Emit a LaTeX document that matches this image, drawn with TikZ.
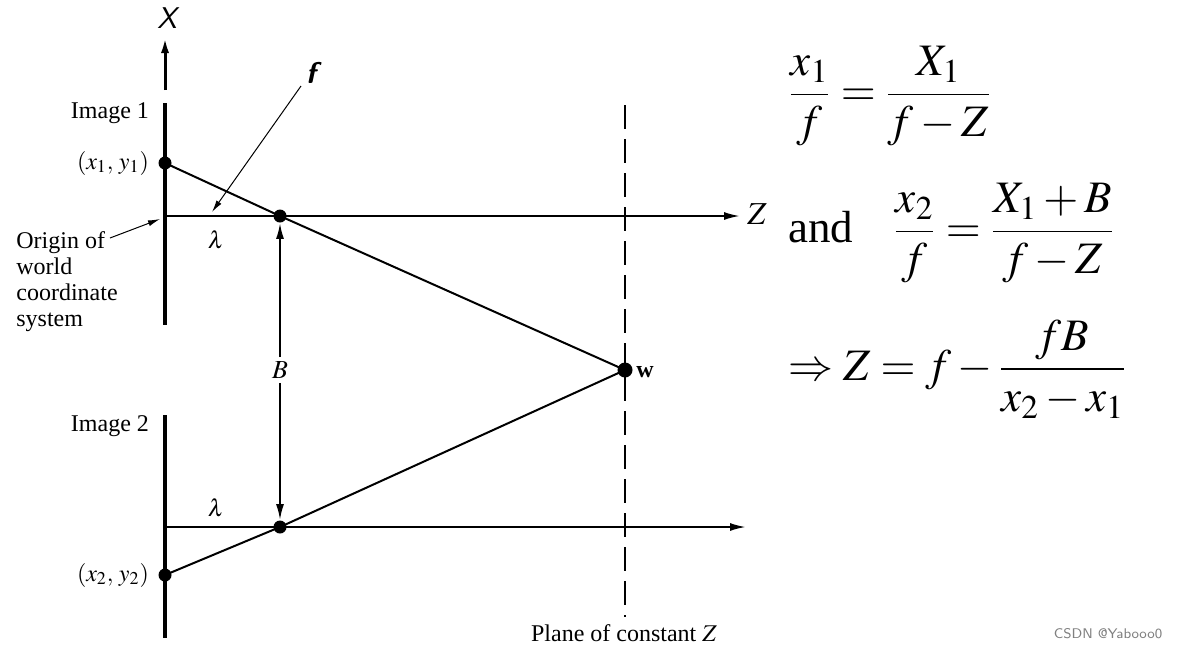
\documentclass[tikz,border=0pt]{standalone}
\usepackage{amsmath,amssymb}
\usepackage{mathptmx}
\usepackage{fontspec}
\setmainfont{Liberation Serif}
\usepackage{tikz}
\usetikzlibrary{positioning,shapes,arrows.meta}

\begin{document}
\begin{tikzpicture}
            [x=0.5pt,y=-0.5pt,
             every node/.style={font=\fontsize{12}{13}\selectfont},
             dot/.style={circle, fill=black, inner sep=0pt, minimum size=6.5pt},
             imgaxis/.style={line width=2pt},
             ray/.style={line width=1pt},
             arr/.style={line width=1pt,-{Latex[length=8pt,width=4pt]}},
             thinarr/.style={line width=0.5pt,-{Latex[length=6pt,width=3pt]}},
             eqn/.style={anchor=west, inner sep=0pt, font=\fontsize{22.5}{26}\selectfont}]
            \useasboundingbox (0,0) rectangle (1187,649);

            % points
            \node[dot] (p1) at (165,163) {};
            \node[dot] (L1) at (280,216) {};
            \node[dot] (L2) at (280,527) {};
            \node[dot] (p2) at (165,575) {};
            \node[dot, minimum size=7.5pt] (w) at (625,370) {};

            % axis ends
            \coordinate (i1top) at (165,103);
            \coordinate (i1bot) at (165,325);
            \coordinate (i2top) at (165,415);
            \coordinate (i2bot) at (165,638);
            \coordinate (xbase) at (165,90);
            \coordinate (xtip) at (165,37);
            \coordinate (z1beg) at (165,216);
            \coordinate (z1end) at (740,216);
            \coordinate (z2beg) at (165,527);
            \coordinate (z2end) at (746,527);
            \coordinate (ptop) at (625,105);
            \coordinate (pbot) at (625,617);
            \coordinate (ftail) at (301,86);
            \coordinate (fhead) at (212,212);
            \coordinate (otail) at (110,238);
            \coordinate (ohead) at (160,219);

            % labels
            \node[font=\fontsize{15}{16}\selectfont\sffamily\itshape] (xlab) at (167,18) {X};
            \node[font=\fontsize{16}{17}\selectfont] (zlab) at (757,214) {$Z$};
            \node (wlab) at (645,372) {\textbf{w}};
            \node[anchor=east] (img1) at (156,113) {Image 1};
            \node[anchor=east] (img2) at (156,426) {Image 2};
            \node[anchor=east] (p1lab) at (156,163) {$(x_1,\,y_1)$};
            \node[anchor=east] (p2lab) at (156,575) {$(x_2,\,y_2)$};
            \node (lam1) at (216,240) {$\boldsymbol{\lambda}$};
            \node (lam2) at (216,508) {$\boldsymbol{\lambda}$};
            \node[fill=white, inner sep=2pt, font=\fontsize{13}{14}\selectfont] (blab) at (280,370) {$B$};
            \node[font=\fontsize{15}{16}\selectfont\sffamily\itshape\bfseries] (flab) at (311,73) {f};
            \node[align=left, anchor=north west, inner sep=0pt] (orig) at (16,231)
                 {Origin of\\world\\coordinate\\system};
            \node (plane) at (624,633) {Plane of constant $Z$};
            \node[text=gray, font=\sffamily\scriptsize] (mark) at (1108,634) {CSDN @Yabooo0};

            % axes
            \draw[imgaxis] (i1top) -- (i1bot);
            \draw[imgaxis] (i2top) -- (i2bot);
            \draw[arr, line width=1.5pt] (xbase) -- (xtip);
            \draw[arr] (z1beg) -- (z1end);
            \draw[arr] (z2beg) -- (z2end);
            \draw[line width=1.2pt, dash pattern=on 12pt off 5pt] (ptop) -- (pbot);

            % rays
            \draw[ray] (p1.center) -- (L1.center) -- (w.center);
            \draw[ray] (p2.center) -- (L2.center) -- (w.center);

            % baseline B
            \draw[arr] (blab) -- (L1);
            \draw[arr] (blab) -- (L2);

            % pointers
            \draw[thinarr] (ftail) -- (fhead);
            \draw[thinarr] (otail) -- (ohead);

            % equations
            \node[eqn] (eq1) at (788,96) {$\displaystyle \frac{x_1}{f}=\frac{X_1}{f-Z}$};
            \node[eqn] (eq2) at (788,233) {and\hspace{20pt}$\displaystyle \frac{x_2}{f}=\frac{X_1+B}{f-Z}$};
            \node[eqn] (eq3) at (788,369) {$\displaystyle \Rightarrow Z=f-\frac{fB}{x_2-x_1}$};
          \end{tikzpicture}
\end{document}
